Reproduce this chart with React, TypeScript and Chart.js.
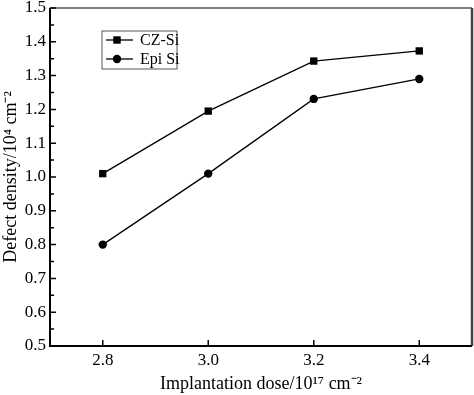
import React, { useEffect, useRef } from "react";
import { Chart, registerables } from "chart.js";

Chart.register(...registerables);

const doses = [2.8, 3.0, 3.2, 3.4];
const czSi = [1.01, 1.195, 1.343, 1.373];
const epiSi = [0.8, 1.01, 1.231, 1.29];
const xTickValues = [2.8, 3.0, 3.2, 3.4];
const yTickValues = [0.5, 0.6, 0.7, 0.8, 0.9, 1.0, 1.1, 1.2, 1.3, 1.4, 1.5];
const seriesLabels = ["CZ-Si", "Epi Si"];
const xTitle = "Implantation dose/10¹⁷ cm⁻²";
const yTitle = "Defect density/10⁴ cm⁻²";

const FONT = "'Liberation Serif', 'Times New Roman', serif";

const framePlugin = {
  id: "frame",
  afterDraw(chart: any) {
    const { ctx, chartArea, scales } = chart;
    const { left, right, top, bottom } = chartArea;
    const x = scales.x;
    const y = scales.y;
    ctx.save();
    ctx.strokeStyle = "#000";
    ctx.lineWidth = 1;
    ctx.beginPath();
    ctx.moveTo(left, top);
    ctx.lineTo(right, top);
    ctx.stroke();
    ctx.lineWidth = 2.5;
    ctx.strokeStyle = "#444";
    ctx.beginPath();
    ctx.moveTo(right, top);
    ctx.lineTo(right, bottom);
    ctx.stroke();
    ctx.strokeStyle = "#000";
    ctx.lineWidth = 2;
    ctx.beginPath();
    ctx.moveTo(left, top);
    ctx.lineTo(left, bottom);
    ctx.lineTo(right, bottom);
    ctx.stroke();

    ctx.lineWidth = 1.5;
    ctx.beginPath();
    xTickValues.forEach((v) => {
      const px = x.getPixelForValue(v);
      ctx.moveTo(px, bottom);
      ctx.lineTo(px, bottom - 6);
    });
    for (let i = 0; i < yTickValues.length; i++) {
      const py = y.getPixelForValue(yTickValues[i]);
      ctx.moveTo(left, py);
      ctx.lineTo(left + 6, py);
      if (i < yTickValues.length - 1) {
        const pm = y.getPixelForValue((yTickValues[i] + yTickValues[i + 1]) / 2);
        ctx.moveTo(left, pm);
        ctx.lineTo(left + 4, pm);
      }
    }
    ctx.stroke();

    // legend
    const lx = left + 52;
    const ly = top + 23;
    const lw = 75;
    const lh = 38;
    ctx.lineWidth = 1;
    ctx.strokeStyle = "#555";
    ctx.fillStyle = "#fff";
    ctx.fillRect(lx, ly, lw, lh);
    ctx.strokeRect(lx, ly, lw, lh);
    ctx.strokeStyle = "#000";
    ctx.fillStyle = "#000";
    ctx.font = `16px ${FONT}`;
    ctx.textBaseline = "middle";
    seriesLabels.forEach((lab, i) => {
      const cy = ly + 9 + i * 19;
      ctx.lineWidth = 1.3;
      ctx.beginPath();
      ctx.moveTo(lx + 4, cy);
      ctx.lineTo(lx + 31, cy);
      ctx.stroke();
      if (i === 0) {
        ctx.fillRect(lx + 15 - 3.7, cy - 3.7, 7.4, 7.4);
      } else {
        ctx.beginPath();
        ctx.arc(lx + 15, cy, 4.2, 0, Math.PI * 2);
        ctx.fill();
      }
      ctx.fillText(lab, lx + 38, cy + 1);
    });
    ctx.restore();
  },
};

export default function App() {
  const ref = useRef<HTMLCanvasElement>(null);
  useEffect(() => {
    document.body.style.margin = "0";
    const chart = new Chart(ref.current!, {
      type: "line",
      data: {
        datasets: [
          {
            label: seriesLabels[0],
            data: doses.map((d, i) => ({ x: d, y: czSi[i] })),
            borderColor: "#000",
            backgroundColor: "#000",
            borderWidth: 1.3,
            pointStyle: "rect",
            pointRadius: 5.2,
            pointBorderWidth: 0,
            tension: 0,
          },
          {
            label: seriesLabels[1],
            data: doses.map((d, i) => ({ x: d, y: epiSi[i] })),
            borderColor: "#000",
            backgroundColor: "#000",
            borderWidth: 1.3,
            pointStyle: "circle",
            pointRadius: 4.2,
            pointBorderWidth: 0,
            tension: 0,
          },
        ],
      },
      options: {
        animation: false,
        responsive: false,
        maintainAspectRatio: false,
        layout: { autoPadding: false, padding: { top: 8, right: 2, left: 0, bottom: 0 } },
        plugins: { legend: { display: false }, tooltip: { enabled: false } },
        scales: {
          x: {
            type: "linear",
            min: 2.7,
            max: 3.5,
            afterBuildTicks: (s: any) => {
              s.ticks = xTickValues.map((v) => ({ value: v }));
            },
            afterFit: (s: any) => {
              s.height = 49;
              s.paddingLeft = 0;
              s.paddingRight = 0;
            },
            grid: { display: false, drawTicks: false },
            border: { display: false },
            ticks: {
              color: "#000",
              font: { family: FONT, size: 17 },
              padding: 4,
              maxRotation: 0,
              callback: (v: any) => Number(v).toFixed(1),
            },
            title: {
              display: true,
              text: xTitle,
              color: "#000",
              font: { family: FONT, size: 18 },
              padding: { top: 2, bottom: 0 },
            },
          },
          y: {
            type: "linear",
            min: 0.5,
            max: 1.5,
            afterBuildTicks: (s: any) => {
              s.ticks = yTickValues.map((v) => ({ value: v }));
            },
            afterFit: (s: any) => {
              s.width = 50;
              s.paddingTop = 0;
              s.paddingBottom = 0;
            },
            grid: { display: false, drawTicks: false },
            border: { display: false },
            ticks: {
              color: "#000",
              font: { family: FONT, size: 17 },
              padding: 4,
              callback: (v: any) => Number(v).toFixed(1),
            },
            title: {
              display: true,
              text: yTitle,
              color: "#000",
              font: { family: FONT, size: 18 },
              padding: { top: 0, bottom: 2 },
            },
          },
        },
      },
      plugins: [framePlugin],
    });
    return () => chart.destroy();
  }, []);
  return (
    <div style={{ width: 474, height: 395 }}>
      <canvas ref={ref} width={474} height={395} style={{ display: "block" }} />
    </div>
  );
}
